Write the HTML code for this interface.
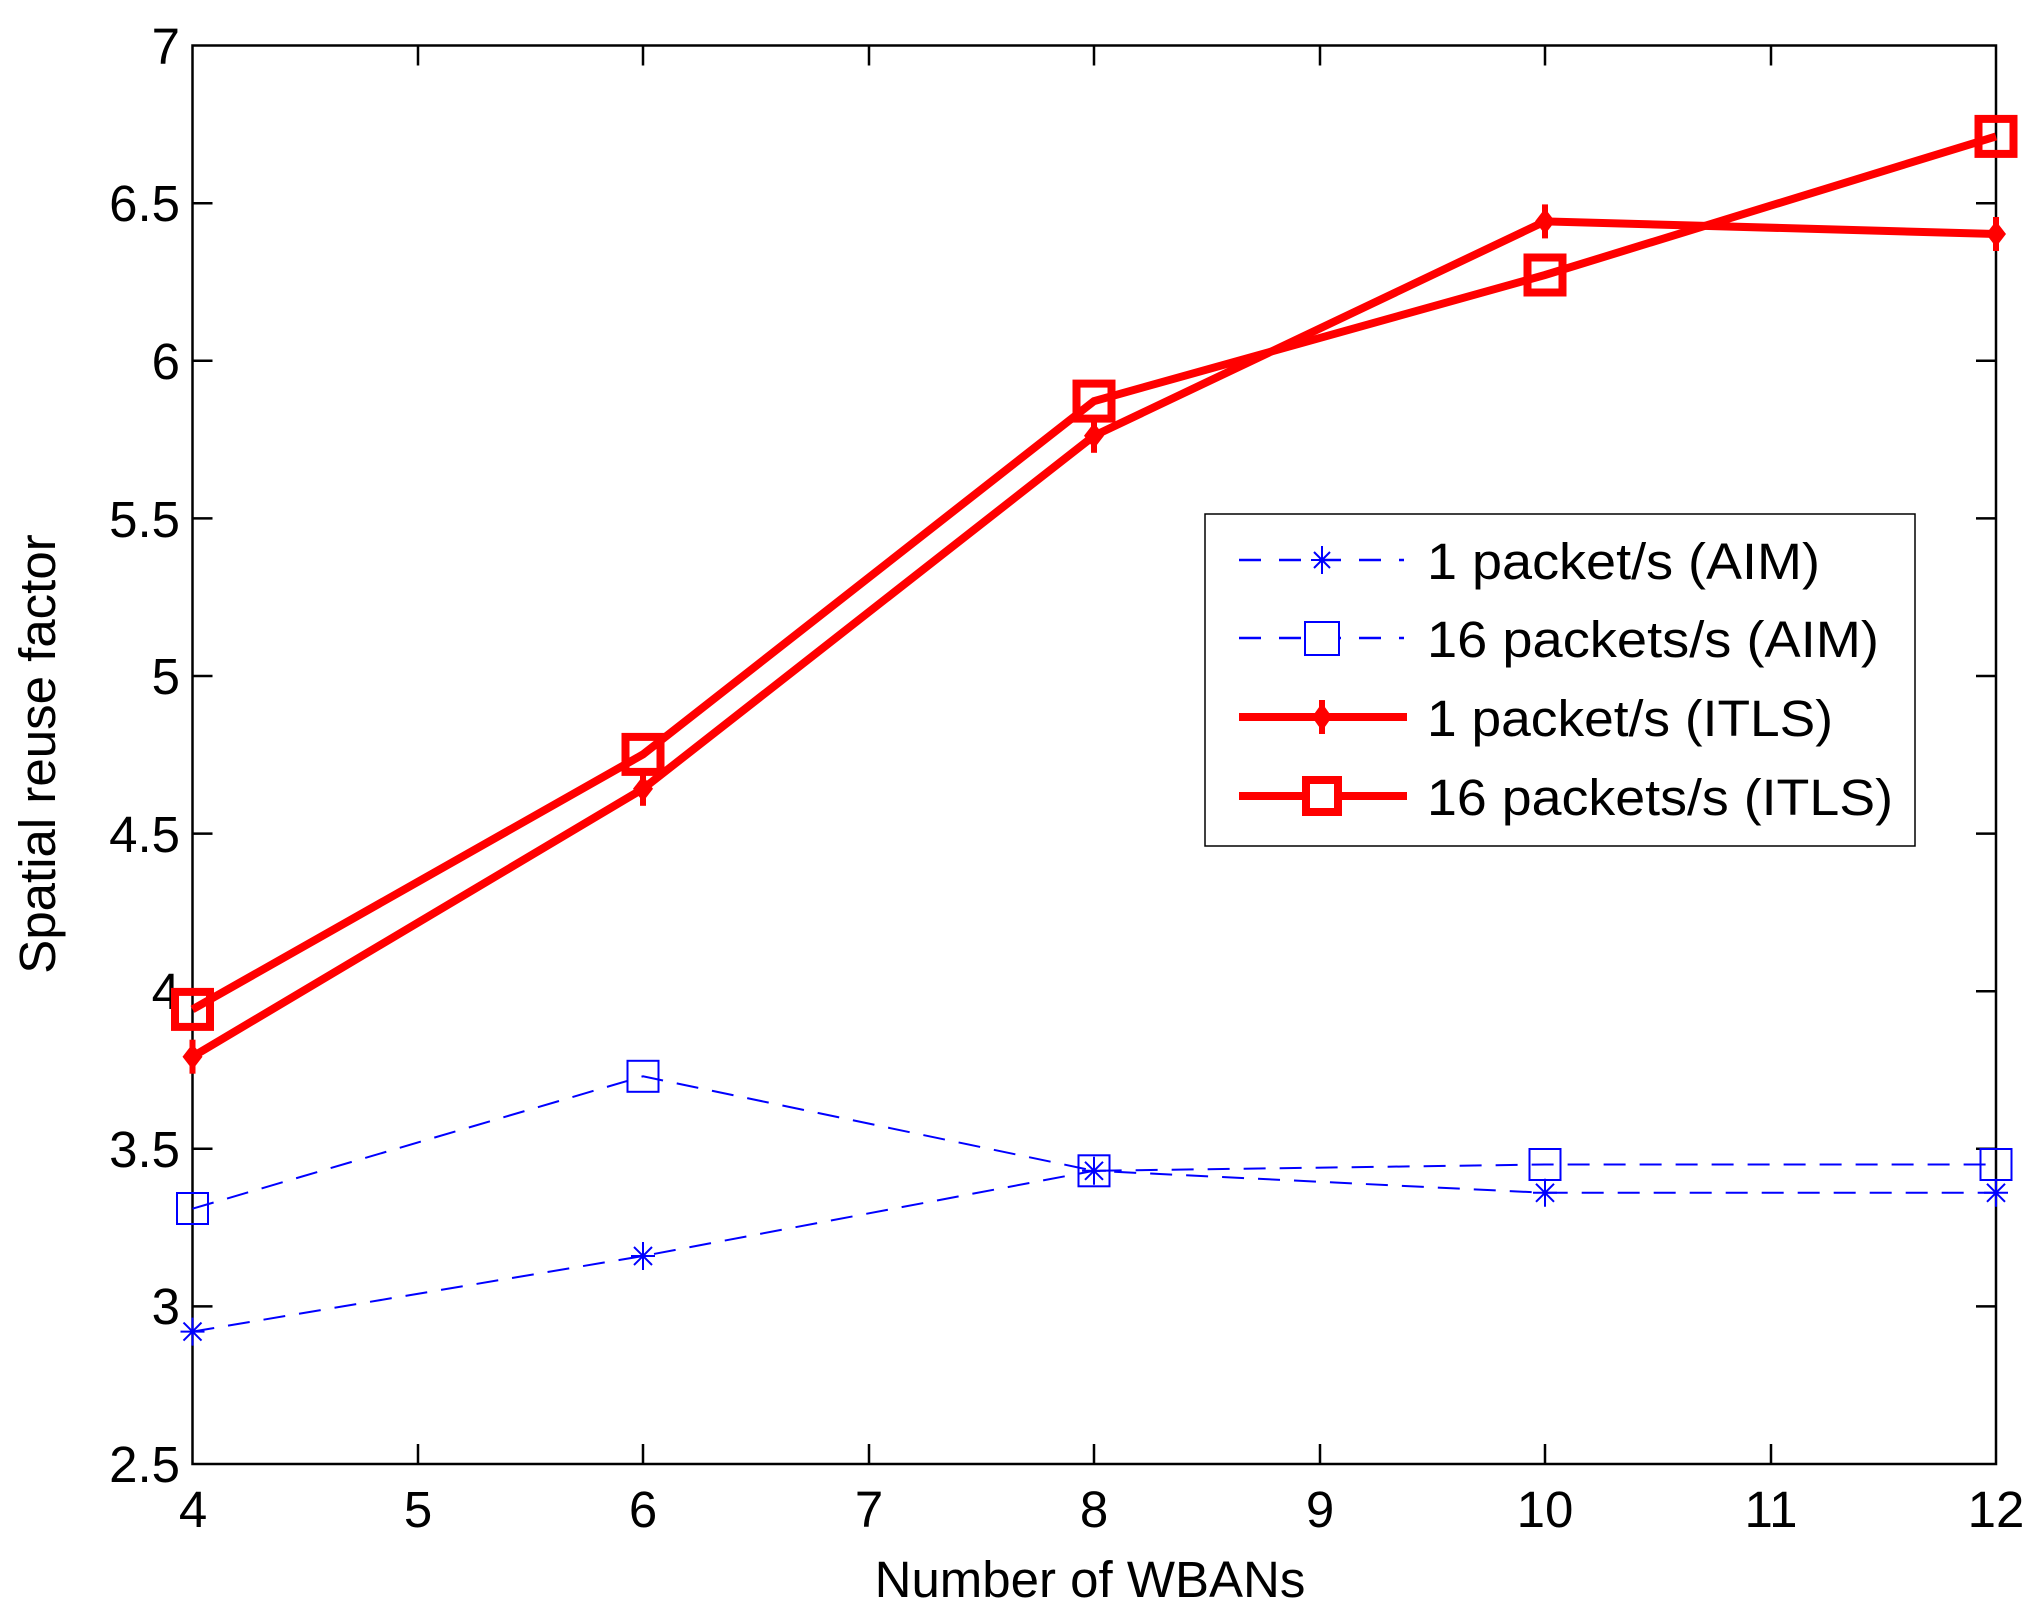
<!DOCTYPE html>
<html><head><meta charset="utf-8"><style>html,body{margin:0;padding:0;background:#fff}</style></head>
<body>
<svg width="2039" height="1614" xmlns="http://www.w3.org/2000/svg" font-family="Liberation Sans, sans-serif">
<defs>
<g id="st" stroke="#00f" stroke-width="2" fill="none"><path d="M-12,0h24M0,-14v28M-9,-9l18,18M-9,9l18,-18"/></g>
<g id="dm" fill="#f00" stroke="none"><path d="M0,-13L10,0L0,13L-10,0Z"/><rect x="-3" y="-17" width="6" height="34"/></g>
</defs>
<rect width="2039" height="1614" fill="#fff"/>
<g stroke="#000" stroke-width="2.5" fill="none">
<rect x="192.5" y="45.5" width="1803.5" height="1418.5"/>
<path d="M418,1464v-20M643,1464v-20M869,1464v-20M1094,1464v-20M1320,1464v-20M1545,1464v-20M1771,1464v-20
M418,45.5v20M643,45.5v20M869,45.5v20M1094,45.5v20M1320,45.5v20M1545,45.5v20M1771,45.5v20
M192.5,1306.4h20M192.5,1148.8h20M192.5,991.2h20M192.5,833.6h20M192.5,676h20M192.5,518.4h20M192.5,360.8h20M192.5,203.2h20
M1996,1306.4h-20M1996,1148.8h-20M1996,991.2h-20M1996,833.6h-20M1996,676h-20M1996,518.4h-20M1996,360.8h-20M1996,203.2h-20"/>
</g>
<g font-size="51" fill="#000" text-anchor="end">
<text x="180" y="1482">2.5</text><text x="180" y="1324">3</text><text x="180" y="1167">3.5</text><text x="180" y="1009">4</text><text x="180" y="852">4.5</text><text x="180" y="694">5</text><text x="180" y="537">5.5</text><text x="180" y="379">6</text><text x="180" y="221">6.5</text><text x="180" y="64">7</text>
</g>
<g font-size="51" fill="#000" text-anchor="middle">
<text x="193" y="1527">4</text><text x="418" y="1527">5</text><text x="643" y="1527">6</text><text x="869" y="1527">7</text><text x="1094" y="1527">8</text><text x="1320" y="1527">9</text><text x="1545" y="1527">10</text><text x="1771" y="1527">11</text><text x="1996" y="1527">12</text>
<text x="1090" y="1597">Number of WBANs</text>
<text transform="translate(55,754) rotate(-90)">Spatial reuse factor</text>
</g>
<g stroke="#00f" stroke-width="2" fill="none">
<polyline stroke-dasharray="22,14" points="192.5,1331.6 643,1256 1094,1170.8 1545,1192.8 1996,1192.8"/>
<polyline stroke-dasharray="22,14" points="192.5,1208.7 643,1076.3 1094,1170.8 1545,1164.5 1996,1164.5"/>
<use href="#st" x="192.5" y="1331.6"/><use href="#st" x="643" y="1256"/><use href="#st" x="1094" y="1170.8"/><use href="#st" x="1545" y="1192.8"/><use href="#st" x="1996" y="1192.8"/>
<rect x="177" y="1193" width="31" height="31"/><rect x="627.5" y="1060.8" width="31" height="31"/><rect x="1078.5" y="1155.3" width="31" height="31"/><rect x="1529.5" y="1149" width="31" height="31"/><rect x="1980.5" y="1149" width="31" height="31"/>
</g>
<g stroke="#f00" stroke-width="8" fill="none">
<polyline points="192.5,1056.7 643,788.8 1094,435.8 1545,221.4 1996,234"/>
<polyline points="192.5,1009.4 643,754.4 1094,401.1 1545,275 1996,136.4"/>
<use href="#dm" x="192.5" y="1056.7"/><use href="#dm" x="643" y="788.8"/><use href="#dm" x="1094" y="435.8"/><use href="#dm" x="1545" y="221.4"/><use href="#dm" x="1996" y="234"/>
<rect x="175" y="991.9" width="35" height="35"/><rect x="625.5" y="736.9" width="35" height="35"/><rect x="1076.5" y="383.6" width="35" height="35"/><rect x="1527.5" y="257.5" width="35" height="35"/><rect x="1978.5" y="118.9" width="35" height="35"/>
</g>
<rect x="1205" y="514" width="710" height="332" fill="#fff" stroke="#000" stroke-width="1.5"/>
<g stroke="#00f" stroke-width="2.5" fill="none">
<path d="M1239,560h165M1239,638h165" stroke-dasharray="22,18"/>
<path d="M1322,546v28M1311,560h22M1314,552l16,16M1314,568l16,-16" stroke-width="2"/>
<rect x="1305" y="622" width="34" height="33" fill="#fff" stroke-width="2"/>
</g>
<g stroke="#f00" stroke-width="8" fill="none">
<path d="M1239,717h168M1239,796h168"/>
<rect x="1306" y="780" width="32" height="32" fill="#fff"/>
</g>
<path d="M1322,703L1332,717L1322,731L1312,717Z" fill="#f00"/><rect x="1319" y="700" width="6" height="34" fill="#f00"/>
<g font-size="51" fill="#000">
<text x="1427" y="579" textLength="393" lengthAdjust="spacingAndGlyphs">1 packet/s (AIM)</text>
<text x="1427" y="657" textLength="452" lengthAdjust="spacingAndGlyphs">16 packets/s (AIM)</text>
<text x="1427" y="736" textLength="406" lengthAdjust="spacingAndGlyphs">1 packet/s (ITLS)</text>
<text x="1427" y="815" textLength="466" lengthAdjust="spacingAndGlyphs">16 packets/s (ITLS)</text>
</g>
</svg>
</body></html>
